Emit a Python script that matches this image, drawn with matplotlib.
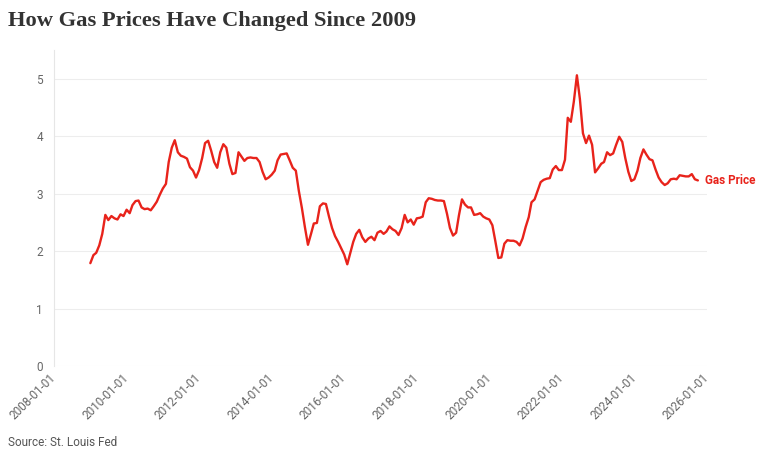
import pandas as pd
import matplotlib
matplotlib.use('Agg')
import matplotlib.pyplot as plt

# monthly average price of regular gasoline ($/gal), Jan 2009 - Oct 2025
p2009 = [1.79, 1.93, 1.97, 2.10, 2.30, 2.63, 2.54, 2.61, 2.57, 2.55, 2.64, 2.61]
p2010 = [2.72, 2.66, 2.80, 2.87, 2.88, 2.76, 2.73, 2.74, 2.71, 2.78, 2.86, 2.98]
p2011 = [3.09, 3.17, 3.55, 3.80, 3.93, 3.72, 3.66, 3.64, 3.61, 3.46, 3.40, 3.28]
p2012 = [3.41, 3.62, 3.88, 3.92, 3.75, 3.55, 3.45, 3.72, 3.86, 3.80, 3.52, 3.34]
p2013 = [3.36, 3.72, 3.65, 3.57, 3.62, 3.63, 3.62, 3.62, 3.55, 3.38, 3.25, 3.28]
p2014 = [3.33, 3.40, 3.58, 3.68, 3.69, 3.70, 3.58, 3.45, 3.40, 3.05, 2.75, 2.42]
p2015 = [2.11, 2.30, 2.48, 2.49, 2.78, 2.83, 2.82, 2.60, 2.40, 2.26, 2.16, 2.05]
p2016 = [1.94, 1.77, 1.96, 2.16, 2.30, 2.37, 2.24, 2.16, 2.22, 2.25, 2.19, 2.32]
p2017 = [2.35, 2.30, 2.34, 2.43, 2.38, 2.35, 2.28, 2.40, 2.63, 2.50, 2.55, 2.46]
p2018 = [2.57, 2.58, 2.60, 2.85, 2.92, 2.91, 2.89, 2.88, 2.88, 2.87, 2.65, 2.40]
p2019 = [2.27, 2.32, 2.62, 2.90, 2.81, 2.76, 2.76, 2.63, 2.64, 2.66, 2.60, 2.57]
p2020 = [2.55, 2.45, 2.18, 1.88, 1.89, 2.13, 2.19, 2.18, 2.18, 2.16, 2.10, 2.22]
p2021 = [2.42, 2.59, 2.85, 2.90, 3.05, 3.20, 3.24, 3.26, 3.27, 3.42, 3.48, 3.41]
p2022 = [3.41, 3.59, 4.32, 4.25, 4.60, 5.06, 4.65, 4.05, 3.88, 4.01, 3.85, 3.37]
p2023 = [3.44, 3.52, 3.55, 3.72, 3.67, 3.70, 3.85, 3.99, 3.90, 3.62, 3.38, 3.22]
p2024 = [3.25, 3.40, 3.62, 3.77, 3.68, 3.60, 3.58, 3.42, 3.28, 3.20, 3.15, 3.18]
p2025 = [3.25, 3.26, 3.25, 3.32, 3.31, 3.30, 3.30, 3.34, 3.25, 3.23]

prices = (p2009 + p2010 + p2011 + p2012 + p2013 + p2014 + p2015 + p2016 + p2017
          + p2018 + p2019 + p2020 + p2021 + p2022 + p2023 + p2024 + p2025)
dates = pd.date_range('2009-01-01', periods=len(prices), freq='MS')

tick_years = list(range(2008, 2027, 2))
tick_labels = [f'{y}-01-01' for y in tick_years]
y_ticks = [0, 1, 2, 3, 4, 5]

red = '#e8231b'
grey = '#666666'

fig = plt.figure(figsize=(7.68, 4.74), dpi=100)
ax = fig.add_axes([54/768, 1 - 366/474, (707 - 54)/768, (366 - 50)/474])

ax.plot(dates, prices, color=red, lw=1.7, solid_joinstyle='round', solid_capstyle='round')

ax.set_xlim(pd.Timestamp('2008-01-01'), pd.Timestamp('2026-01-01'))
ax.set_ylim(0, 5.5)
ax.set_yticks(y_ticks)
ax.set_xticks([pd.Timestamp(f'{y}-01-01') for y in tick_years])
ax.set_xticklabels(tick_labels, rotation=45, ha='right', va='center', rotation_mode='anchor')
ax.tick_params(axis='both', length=0, labelsize=8.5, labelcolor=grey, labelfontfamily='Roboto')
ax.tick_params(axis='x', pad=7)
ax.tick_params(axis='y', pad=8)

ax.grid(axis='y', color='#ededed', lw=0.8)
ax.set_axisbelow(True)
for s in ['top', 'right', 'bottom']:
    ax.spines[s].set_visible(False)
ax.spines['left'].set_color('#e6e6e6')
ax.spines['left'].set_linewidth(0.8)

ax.annotate('Gas Price', xy=(dates[-1], prices[-1]), xytext=(7, 0), textcoords='offset pixels',
            color=red, fontsize=8.5, fontweight='bold', family='Roboto', va='center', ha='left')

fig.text(8/768, 1 - 21/474, 'How Gas Prices Have Changed Since 2009', fontsize=16.2,
         fontweight='bold', family='Liberation Serif', color='#333333', va='center', ha='left')
fig.text(8/768, 1 - 442/474, 'Source: St. Louis Fed', fontsize=8.5, family='Roboto',
         color='#555555', va='center', ha='left')

fig.savefig('out.png', dpi=100)
